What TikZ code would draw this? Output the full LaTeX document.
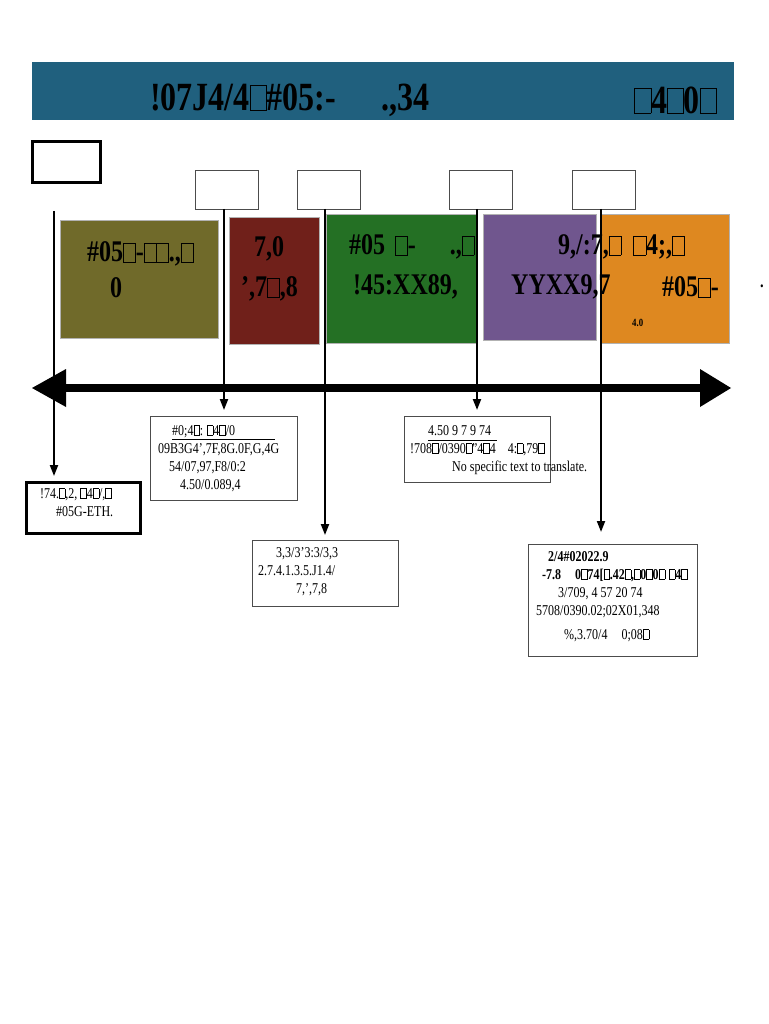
\documentclass[tikz,border=0pt]{standalone}
\usepackage{fontspec}
\setmainfont[FakeStretch=0.8]{Liberation Serif}
\usetikzlibrary{arrows.meta}
\newcommand\bx{{\setlength\fboxsep{0pt}\setlength\fboxrule{0.5pt}\framebox[0.42em]{\rule{0pt}{0.62em}}}}
\definecolor{teal1}{RGB}{32,96,126}
\definecolor{olive1}{RGB}{112,106,42}
\definecolor{red1}{RGB}{112,32,26}
\definecolor{green1}{RGB}{36,112,36}
\definecolor{purple1}{RGB}{112,86,142}
\definecolor{orange1}{RGB}{222,136,32}
\begin{document}
\begin{tikzpicture}[x=1pt,y=-1pt,
  big/.style={font=\bfseries\fontsize{30}{32}\selectfont,inner sep=0pt,anchor=west},
  sm/.style={font=\fontsize{15}{18}\selectfont,align=left,inner sep=0pt,anchor=north west},
  tag/.style={draw=black!70,line width=0.8pt},
  vl/.style={line width=2pt,-{Triangle[length=11pt,width=8pt]}},
  cb/.style={draw=black!30,line width=0.5pt}]
\useasboundingbox (0,0) rectangle (768,1024);
% title
\fill[teal1] (32,62) rectangle (734,120);
\node[big,font=\bfseries\fontsize{40}{42}\selectfont] (t1) at (150,100) {!07J4/4\bx\#05:-\hspace{46pt}.,34};
\node[big,font=\bfseries\fontsize{40}{42}\selectfont] (t2) at (634,100) {\bx4\bx0\bx};
% tag boxes
\draw[line width=3pt] (32,142) rectangle (100,183);
\draw[tag] (195,170) rectangle (258,209);
\draw[tag] (297,170) rectangle (360,209);
\draw[tag] (449,170) rectangle (512,209);
\draw[tag] (572,170) rectangle (635,209);
% coloured boxes
\fill[olive1,cb] (60,220) rectangle (218,338);
\fill[red1,cb] (229,217) rectangle (319,344);
\fill[green1,cb] (326,214) rectangle (476,343);
\fill[purple1,cb] (483,214) rectangle (596,340);
\fill[orange1,cb] (601,214) rectangle (729,343);
\node[big] (o1) at (87,254) {\#05\bx-\bx\bx.,\bx};
\node[big] (o2) at (110,288) {0};
\node[big] (r1) at (254,249) {7,0};
\node[big] (r2) at (241,289) {',7\bx,8};
\node[big] (g1) at (349,247) {\#05\hspace{10pt}\bx-\hspace{34pt}.,\bx};
\node[big] (g2) at (353,287) {!45:XX89,};
\node[big] (p1) at (558,247) {9,/:7,\bx\hspace{12pt}\bx4;,\bx};
\node[big] (p2) at (511,287) {YYXX9,7};
\node[big] (q1) at (662,287) {\#05\bx-};
\node[sm,font=\bfseries\fontsize{11}{12}\selectfont] (q2) at (632,319) {4.0};
\node[big,font=\bfseries\fontsize{18}{18}\selectfont] (dot) at (760,286) {.};
% timeline
\draw[line width=8pt] (60,388) -- (702,388);
\fill (32,388) -- (66,369) -- (66,407) -- cycle;
\fill (731,388) -- (700,369) -- (700,407) -- cycle;
% verticals
\coordinate (v1a) at (54,211); \coordinate (v1b) at (54,476);
\coordinate (v2a) at (224,209); \coordinate (v2b) at (224,410);
\coordinate (v3a) at (325,209); \coordinate (v3b) at (325,535);
\coordinate (v4a) at (477,209); \coordinate (v4b) at (477,410);
\coordinate (v5a) at (601,209); \coordinate (v5b) at (601,532);
\draw[vl] (v1a) -- (v1b);
\draw[vl] (v2a) -- (v2b);
\draw[vl] (v3a) -- (v3b);
\draw[vl] (v4a) -- (v4b);
\draw[vl] (v5a) -- (v5b);
% bottom boxes
\draw[line width=3pt] (26,482) rectangle (140,533);
\node[sm] (b1) at (40,488) {!74.\bx,2, \bx4\bx/,\bx\\\hspace{16pt}\#05G-ETH.};
\draw[tag,line width=0.6pt] (150,416) rectangle (297,500);
\node[sm] (b2) at (158,425) {\hspace{14pt}\#0;4\bx: \bx4\bx/0\\09B3G4',7F,8G.0F,G,4G\\\hspace{11pt}54/07,97,F8/0:2\\\hspace{22pt}4.50/0.089,4};
\draw (172,439) -- (275,439);
\draw[tag,line width=0.6pt] (404,416) rectangle (550,482);
\node[sm] (b3) at (410,425) {\hspace{18pt}4.50 9 7 9 74\\!708\bx/0390\bx"4\bx4\hspace{12pt}4:\bx,79\bx\\\hspace{42pt}No specific text to translate.};
\draw (428,440) -- (497,440);
\draw[tag,line width=0.6pt] (252,540) rectangle (398,606);
\node[sm] (b4) at (258,547) {\hspace{18pt}3,3/3'3:3/3,3\\2.7.4.1.3.5.J1.4/\\\hspace{38pt}7,',7,8};
\draw[tag,line width=0.6pt] (528,544) rectangle (697,656);
\node[sm] (b5) at (536,551) {\hspace{12pt}\textbf{2/4\#02022.9}\\\hspace{6pt}\textbf{-7.8}\hspace{14pt}\textbf{0\bx74[\bx.42\bx,\bx0\bx0\bx\hspace{4pt}\bx4\bx}\\\hspace{22pt}3/709, 4 57 20 74\\5708/0390.02;02X01,348\\[6pt]\hspace{28pt}\%,3.70/4\hspace{14pt}0;08\bx};
\end{tikzpicture}
\end{document}
